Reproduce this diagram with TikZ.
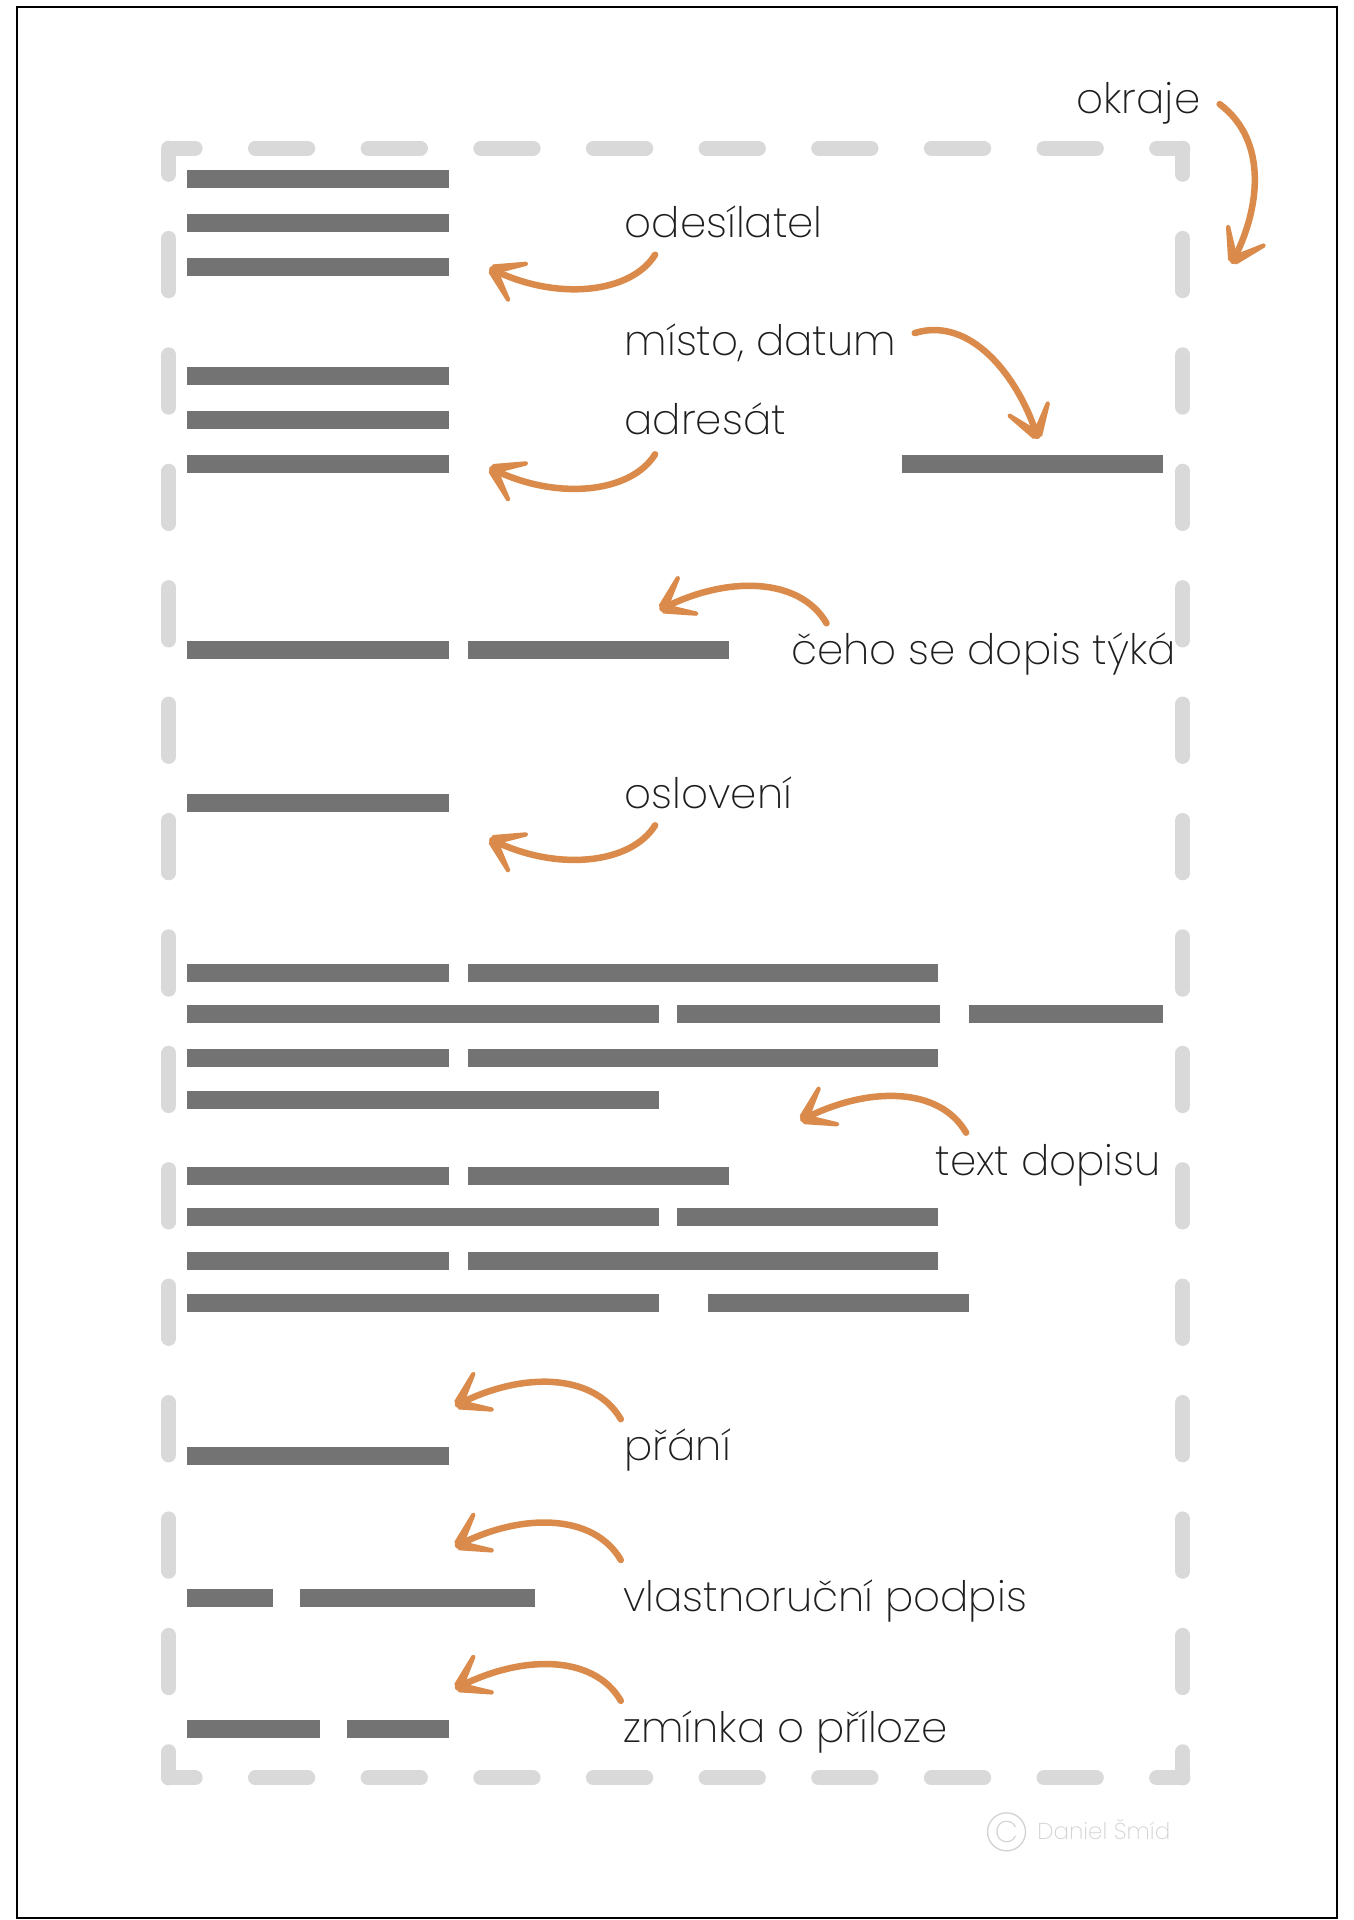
\documentclass[tikz,border=0pt]{standalone}
\usepackage{fontspec}
\setmainfont{Poppins ExtraLight}
\usetikzlibrary{arrows.meta,decorations.markings}
\definecolor{barg}{HTML}{737373}
\definecolor{dashg}{HTML}{D9D9D9}
\definecolor{orng}{HTML}{DA8B4B}
\definecolor{txt}{HTML}{1E1E1E}
\definecolor{crg}{HTML}{D2D2D2}
\tikzset{
  bar/.style={draw=barg, line width=18pt, line cap=butt},
  hside/.style={draw=dashg, line width=15pt, line cap=round, dash pattern=on 52.3pt off 60.34pt, dash phase=26.15pt},
  vside/.style={draw=dashg, line width=15pt, line cap=round, dash pattern=on 52.3pt off 64.1pt, dash phase=26.15pt},
  lbl/.style={inner sep=0pt, anchor=base west, text=txt, font=\fontsize{42}{42}\selectfont},
  arr/.style={draw=orng, line width=6.5pt, line cap=round, postaction={decorate},
    decoration={markings, mark=at position 0.999 with {
      \fill[orng, rounded corners=1.5pt] (2.9pt,4.1pt) -- (-27.9pt,22.8pt) -- (-30.3pt,19.6pt) -- (-2.9pt,-4.1pt) -- cycle;
      \fill[orng, rounded corners=1.5pt] (2.9pt,-4.1pt) -- (-27.9pt,-22.8pt) -- (-30.3pt,-19.6pt) -- (-2.9pt,4.1pt) -- cycle;
    }}},
}
\begin{document}
\begin{tikzpicture}[x=1.2244pt,y=-1.2244pt]
\useasboundingbox (0,0) rectangle (1105,1568);
\fill[white] (0,0) rectangle (1105,1568);
% outer frame
\draw[black, line width=2pt] (14,6) rectangle (1092,1566);
% dashed margin
\draw[hside] (138,121) -- (966,121);
\draw[hside] (138,1452) -- (966,1452);
\draw[vside] (138,121) -- (138,1452);
\draw[vside] (966,121) -- (966,1452);
% sender
\draw[bar] (153,146) -- (367,146);
\draw[bar] (153,182) -- (367,182);
\draw[bar] (153,218) -- (367,218);
% addressee
\draw[bar] (153,307) -- (367,307);
\draw[bar] (153,343) -- (367,343);
\draw[bar] (153,379) -- (367,379);
% date
\draw[bar] (737,379) -- (950,379);
% subject
\draw[bar] (153,531) -- (367,531);
\draw[bar] (382,531) -- (595,531);
% greeting
\draw[bar] (153,656) -- (367,656);
% body paragraph 1
\draw[bar] (153,795) -- (367,795);
\draw[bar] (382,795) -- (766,795);
\draw[bar] (153,828) -- (538,828);
\draw[bar] (553,828) -- (768,828);
\draw[bar] (791,828) -- (950,828);
\draw[bar] (153,864) -- (367,864);
\draw[bar] (382,864) -- (766,864);
\draw[bar] (153,898) -- (538,898);
% body paragraph 2
\draw[bar] (153,960) -- (367,960);
\draw[bar] (382,960) -- (595,960);
\draw[bar] (153,994) -- (538,994);
\draw[bar] (553,994) -- (766,994);
\draw[bar] (153,1030) -- (367,1030);
\draw[bar] (382,1030) -- (766,1030);
\draw[bar] (153,1064) -- (538,1064);
\draw[bar] (578,1064) -- (791,1064);
% wishes
\draw[bar] (153,1189) -- (367,1189);
% signature
\draw[bar] (153,1305) -- (223,1305);
\draw[bar] (245,1305) -- (437,1305);
% attachment
\draw[bar] (153,1412) -- (261,1412);
\draw[bar] (283,1412) -- (367,1412);
% labels
\node[lbl] (okraje) at (879,93) {okraje};
\node[lbl] (odesilatel) at (510,194) {odesílatel};
\node[lbl] (misto) at (510,290) {místo, datum};
\node[lbl] (adresat) at (510,355) {adresát};
\node[lbl] (ceho) at (646,543) {čeho se dopis týká};
\node[lbl] (osloveni) at (510,660) {oslovení};
\node[lbl] (textd) at (764,960) {text dopisu};
\node[lbl] (prani) at (510,1193) {přání};
\node[lbl] (podpis) at (509,1316) {vlastnoruční podpis};
\node[lbl] (priloha) at (509,1423) {zmínka o příloze};
% copyright
\node[circle, draw=crg, line width=1.3pt, minimum size=38pt, inner sep=0pt, text=crg, font=\fontsize{30}{30}\selectfont] (crsym) at (822,1496) {C};
\node[inner sep=0pt, anchor=base west, text=crg, font=\fontsize{23}{23}\selectfont] (crname) at (847,1502) {Daniel Šmíd};
% arrow endpoints
\coordinate (okS) at (996,85);   \coordinate (okT) at (1007,213);
\coordinate (odS) at (535,208);  \coordinate (odT) at (402,220);
\coordinate (adS) at (535,371);  \coordinate (adT) at (402,383);
\coordinate (osS) at (535,674);  \coordinate (osT) at (402,686);
\coordinate (miS) at (747,272);  \coordinate (miT) at (847,356);
\coordinate (ceS) at (675,509);  \coordinate (ceT) at (541,497);
\coordinate (teS) at (789,925);  \coordinate (teT) at (656,914);
\coordinate (prS) at (507,1159); \coordinate (prT) at (374,1147);
\coordinate (poS) at (507,1274); \coordinate (poT) at (374,1262);
\coordinate (piS) at (507,1389); \coordinate (piT) at (374,1378);
% arrows
\draw[arr] (okS) .. controls ++(40,30) and ++(22,-42) .. (okT);
\draw[arr] (odS) .. controls ++(-20,32) and ++(52,26) .. (odT);
\draw[arr] (adS) .. controls ++(-20,32) and ++(52,26) .. (adT);
\draw[arr] (osS) .. controls ++(-20,32) and ++(52,26) .. (osT);
\draw[arr] (miS) .. controls ++(45,-14) and ++(-16,-50) .. (miT);
\draw[arr] (ceS) .. controls ++(-22,-38) and ++(52,-27) .. (ceT);
\draw[arr] (teS) .. controls ++(-22,-38) and ++(52,-27) .. (teT);
\draw[arr] (prS) .. controls ++(-22,-38) and ++(52,-27) .. (prT);
\draw[arr] (poS) .. controls ++(-22,-38) and ++(52,-27) .. (poT);
\draw[arr] (piS) .. controls ++(-22,-38) and ++(52,-27) .. (piT);
\end{tikzpicture}
\end{document}
